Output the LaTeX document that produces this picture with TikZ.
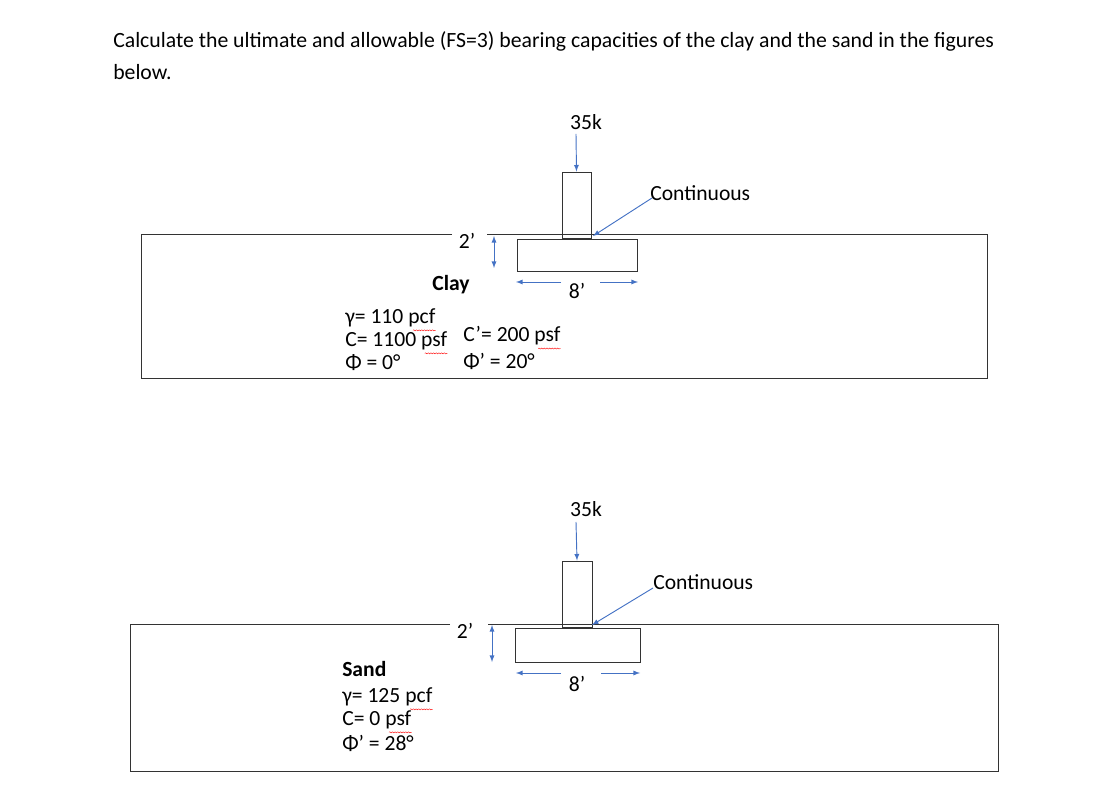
\documentclass[tikz,border=0pt]{standalone}
\usepackage{fontspec}
\setmainfont{Carlito}
\usetikzlibrary{decorations.pathmorphing}
\definecolor{ablue}{HTML}{4472C4}
\begin{document}
\begin{tikzpicture}[x=0.75pt,y=-0.75pt,
  txt/.style={inner sep=0pt,font=\fontsize{16.2}{18}\selectfont},
  hdr/.style={inner sep=0pt,anchor=west,font=\fontsize{16.3}{18}\selectfont},
  blu/.style={draw=ablue,line width=0.7pt,-latex},
  soil/.style={draw=black!80,line width=0.6pt},
  wav/.style={draw=red,line width=0.3pt,decorate,decoration={snake,amplitude=0.4pt,segment length=2pt}}]
\useasboundingbox (0,0) rectangle (1100,812);
\newcommand{\wavy}[1]{\draw[wav] ([xshift=-17pt,yshift=-5pt]#1.base east) -- ([yshift=-5pt]#1.base east);}
\node[hdr] (h1) at (113,41) {Calculate the ultimate and allowable (FS=3) bearing capacities of the clay and the sand in the figures};
\node[hdr] (h2) at (113,72) {below.};
% ---- top ----
\draw[soil] (452,234) -- (141,234) -- (141,378) -- (987,378) -- (987,234) -- (487,234);
\node[soil,draw,minimum width=90pt,minimum height=24pt,inner sep=0pt] (f1) at (577,255) {};
\node[soil,draw,minimum width=21.75pt,minimum height=50pt,inner sep=0pt,anchor=south] (c1) at (576.5,239) {};
\node[txt] (k1) at (586,122) {35k};
\coordinate (k1s) at (576,134);
\draw[blu] (k1s) -- (c1.north);
\node[txt,anchor=west] (co1) at (650,193) {Continuous};
\coordinate (co1s) at (652,198);
\coordinate (co1e) at (593,236);
\draw[blu] (co1s) -- (co1e);
\node[txt] (d1) at (467,241) {2’};
\coordinate (v1a) at (494,236); \coordinate (v1b) at (494,268);
\draw[blu,latex-latex] (v1a) -- (v1b);
\node[txt] (w1) at (577,291) {8’};
\coordinate (w1l) at (516,282); \coordinate (w1la) at (561,282);
\coordinate (w1r) at (638,282); \coordinate (w1ra) at (600,282);
\draw[blu] (w1la) -- (w1l); \draw[blu] (w1ra) -- (w1r);
\node[txt,font=\fontsize{16.2}{18}\selectfont\bfseries] (cl) at (451,285) {Clay};
\node[txt,anchor=west] (t1) at (345,318) {γ= 110 pcf};
\node[txt,anchor=west] (t2) at (345,341) {C= 1100 psf};
\node[txt,anchor=west] (t3) at (345,363) {Φ = 0°};
\node[txt,anchor=west] (t4) at (463,336) {C’= 200 psf};
\node[txt,anchor=west] (t5) at (463,361) {Φ’ = 20°};
\wavy{t1}\wavy{t2}\wavy{t4}
% ---- bottom ----
\draw[soil] (450,624) -- (130,624) -- (130,771) -- (998,771) -- (998,624) -- (488,624);
\node[soil,draw,minimum width=93.75pt,minimum height=25.5pt,inner sep=0pt] (f2) at (577.5,645) {};
\node[soil,draw,minimum width=22.5pt,minimum height=50pt,inner sep=0pt,anchor=south] (c2) at (577,628) {};
\node[txt] (k2) at (586,509) {35k};
\coordinate (k2s) at (576,522);
\draw[blu] (k2s) -- (c2.north);
\node[txt,anchor=west] (co2) at (653,582) {Continuous};
\coordinate (co2s) at (653,588);
\coordinate (co2e) at (592,625);
\draw[blu] (co2s) -- (co2e);
\node[txt] (d2) at (465,631) {2’};
\coordinate (v2a) at (492,625); \coordinate (v2b) at (492,662);
\draw[blu,latex-latex] (v2a) -- (v2b);
\node[txt] (w2) at (577,684) {8’};
\coordinate (w2l) at (516,673); \coordinate (w2la) at (561,673);
\coordinate (w2r) at (640,673); \coordinate (w2ra) at (601,673);
\draw[blu] (w2la) -- (w2l); \draw[blu] (w2ra) -- (w2r);
\node[txt,anchor=west,font=\fontsize{16.2}{18}\selectfont\bfseries] (sd) at (342,669) {Sand};
\node[txt,anchor=west] (s1) at (342,697) {γ= 125 pcf};
\node[txt,anchor=west] (s2) at (342,720) {C= 0 psf};
\node[txt,anchor=west] (s3) at (342,743) {Φ’ = 28°};
\wavy{s1}\wavy{s2}
\end{tikzpicture}
\end{document}
